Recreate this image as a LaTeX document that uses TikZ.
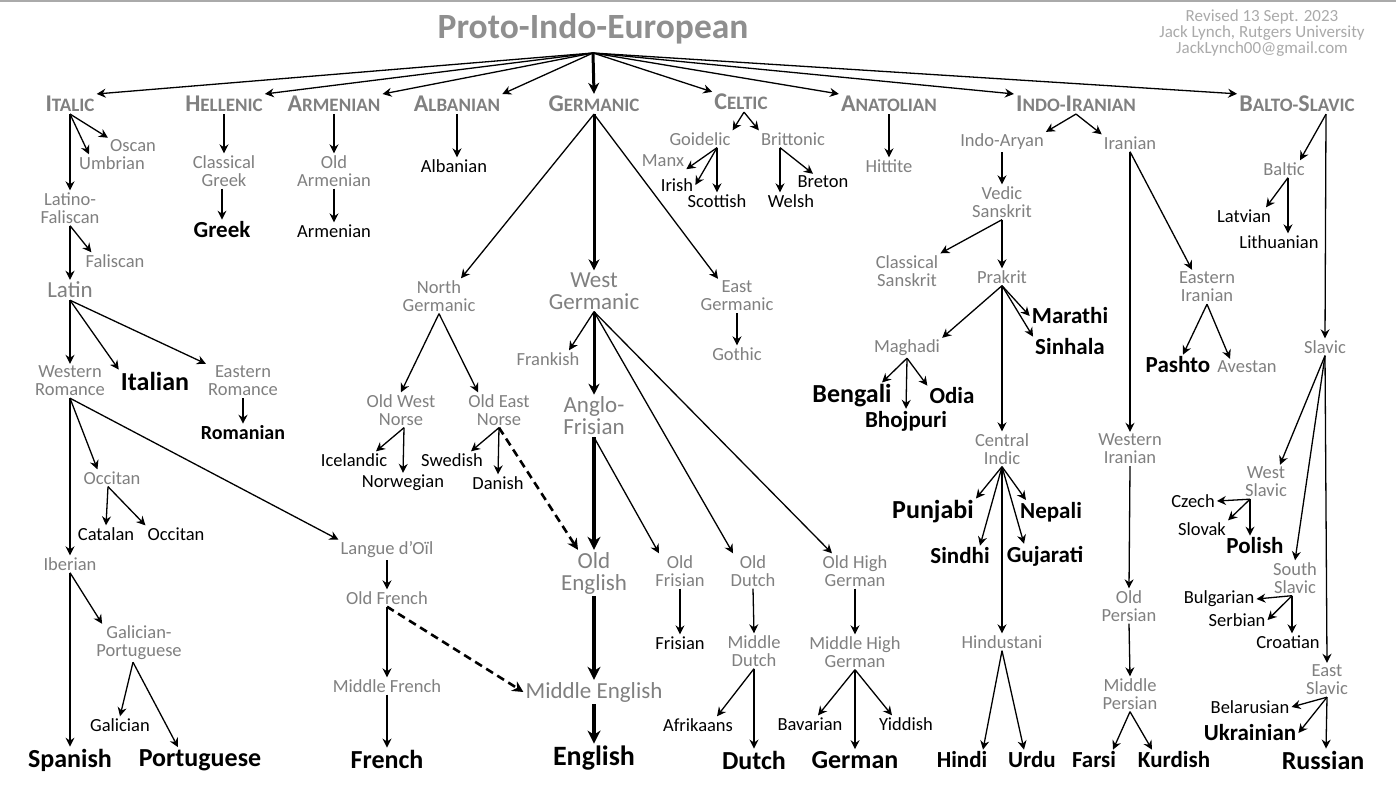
\documentclass[tikz,border=0pt]{standalone}
\usepackage{fontspec}
\setmainfont{Carlito}
\usetikzlibrary{arrows.meta}

\definecolor{txtgrey}{RGB}{128,128,128}
\definecolor{ttlgrey}{RGB}{143,143,143}
\definecolor{credgrey}{RGB}{170,170,170}

% branch names in large and small capitals
\newcommand\bigC[1]{{\fontsize{24}{24}\selectfont #1}}
\newcommand\smC[1]{{\fontsize{19}{19}\selectfont #1}}

\tikzset{
  lbl/.style={inner sep=2pt, align=center, text=txtgrey, font=\fontsize{18.5}{18}\selectfont},
  blk/.style={lbl, text=black},
  big/.style={lbl, font=\fontsize{23}{22}\selectfont},
  maj/.style={blk, font=\bfseries\fontsize{26}{26}\selectfont},
  mid/.style={blk, font=\bfseries\fontsize{23}{23}\selectfont},
  sml/.style={blk, font=\bfseries\fontsize{20}{20}\selectfont},
  fam/.style={lbl, font=\bfseries},
  arr/.style={-{Stealth[length=9pt,width=9pt,inset=3pt]}, line width=1.3pt},
  heavy/.style={-{Stealth[length=13pt,width=13pt,inset=4pt]}, line width=4.5pt},
  semiheavy/.style={-{Stealth[length=11pt,width=11pt,inset=3.5pt]}, line width=3pt},
  dsh/.style={-{Stealth[length=11pt,width=11pt,inset=3.5pt]}, line width=2.6pt, dash pattern=on 8pt off 5pt},
}

\begin{document}
\begin{tikzpicture}[x=1pt, y=-1pt]
    \useasboundingbox (0,0) rectangle (1396,786);
    \fill[white] (0,0) rectangle (1396,786);
    \draw[credgrey, line width=1.5pt] (0,1) -- (1396,1);

    % Title and credits
    \node[inner sep=2pt, text=ttlgrey, font=\bfseries\fontsize{35.5}{35}\selectfont] (pie) at (593,29) {Proto-Indo-European};
    \coordinate (apex) at (593,53);
    \node[align=center, text=credgrey, font=\fontsize{17}{16}\selectfont] (cred) at (1262,33) {Revised 13 Sept. 2023\\Jack Lynch, Rutgers University\\JackLynch00@gmail.com};

    % Branches
    \node[fam] (italic) at (70,104) {\bigC{I}\smC{TALIC}};
    \node[fam] (hellenic) at (224,104) {\bigC{H}\smC{ELLENIC}};
    \node[fam] (armenian) at (334,104) {\bigC{A}\smC{RMENIAN}};
    \node[fam] (albanian) at (457,104) {\bigC{A}\smC{LBANIAN}};
    \node[fam] (germanic) at (594,104) {\bigC{G}\smC{ERMANIC}};
    \node[fam] (celtic) at (741,102) {\bigC{C}\smC{ELTIC}};
    \node[fam] (anatolian) at (889,104) {\bigC{A}\smC{NATOLIAN}};
    \node[fam] (indoiran) at (1076,104) {\bigC{I}\smC{NDO-}\bigC{I}\smC{RANIAN}};
    \node[fam] (baltoslav) at (1297,104) {\bigC{B}\smC{ALTO-}\bigC{S}\smC{LAVIC}};

    \draw[arr] (apex) -- (italic.north east);
    \draw[arr] (apex) -- (hellenic.north east);
    \draw[arr] (apex) -- (armenian.north east);
    \draw[arr] (apex) -- (albanian.north east);
    \draw[semiheavy] (apex) -- (germanic.north);
    \draw[arr] (apex) -- (celtic.north west);
    \draw[arr] (apex) -- (anatolian.north west);
    \draw[arr] (apex) -- (indoiran.north west);
    \draw[arr] (apex) -- (baltoslav.north west);

    % Italic
    \node[lbl] (oscan) at (133,146) {Oscan};
    \node[lbl] (umbrian) at (112,163) {Umbrian};
    \node[lbl] (latfal) at (70,208) {Latino-\\Faliscan};
    \node[lbl] (faliscan) at (115,261) {Faliscan};
    \node[big] (latin) at (70,290) {Latin};
    \node[lbl] (wrom) at (70,381) {Western\\Romance};
    \node[maj] (italian) at (155,381) {Italian};
    \node[lbl] (erom) at (243,381) {Eastern\\Romance};
    \node[sml] (romanian) at (243,433) {Romanian};
    \node[lbl] (occg) at (112,478) {Occitan};
    \node[blk] (catalan) at (106,534) {Catalan};
    \node[blk] (occitan) at (176,534) {Occitan};
    \node[lbl] (iberian) at (70,564) {Iberian};
    \node[lbl] (galport) at (139,643) {Galician-\\Portuguese};
    \node[blk] (galician) at (120,725) {Galician};
    \node[maj] (spanish) at (70,760) {Spanish};
    \node[maj] (portuguese) at (200,760) {Portuguese};
    \node[lbl] (langue) at (387,550) {Langue d’Oïl};

    \draw[arr] (italic.south) -- (oscan.north west);
    \draw[arr] (italic.south) -- ([xshift=12pt]umbrian.north west);
    \draw[arr] (italic.south) -- (latfal.north);
    \draw[arr] (latfal.south) -- ([xshift=8pt]faliscan.north west);
    \draw[arr] (latfal.south) -- (latin.north);
    \draw[arr] (latin.south) -- (wrom.north);
    \draw[arr] (latin.south) -- (italian.north west);
    \draw[arr] (latin.south) -- (erom.north west);
    \draw[arr] (erom.south) -- (romanian.north);
    \draw[arr] (wrom.south) -- ([xshift=16pt]occg.north west);
    \draw[arr] (wrom.south) -- (iberian.north);
    \draw[arr] (wrom.south) -- (langue.north west);
    \draw[arr] ([xshift=-4pt]occg.south) -- (catalan.north);
    \draw[arr] ([xshift=-4pt]occg.south) -- (occitan.north west);
    \draw[arr] (iberian.south) -- ([xshift=8pt]galport.north west);
    \draw[arr] (iberian.south) -- (spanish.north);
    \draw[arr] ([xshift=-6pt]galport.south) -- (galician.north);
    \draw[arr] ([xshift=-6pt]galport.south) -- ([xshift=-22pt]portuguese.north);

    % Hellenic, Armenian, Albanian
    \node[lbl] (clgreek) at (224,171) {Classical\\Greek};
    \node[mid] (greek) at (222,230) {Greek};
    \node[lbl] (oldarm) at (334,171) {Old\\Armenian};
    \node[blk] (armenianl) at (334,231) {Armenian};
    \node[blk] (albanianl) at (454,166) {Albanian};

    \draw[arr] (hellenic.south) -- (clgreek.north);
    \draw[arr] ([xshift=-2pt]clgreek.south) -- (greek.north);
    \draw[arr] (armenian.south) -- (oldarm.north);
    \draw[arr] (oldarm.south) -- (armenianl.north);
    \draw[arr] (albanian.south) -- ([xshift=3pt]albanianl.north);

    % Germanic
    \node[lbl] (ngerm) at (439,296) {North\\Germanic};
    \node[big] (wgerm) at (594,291) {West\\Germanic};
    \node[lbl] (egerm) at (737,296) {East\\Germanic};
    \node[lbl] (gothic) at (737,354) {Gothic};
    \node[lbl] (owns) at (401,410) {Old West\\Norse};
    \node[lbl] (oens) at (499,410) {Old East\\Norse};
    \node[blk] (icelandic) at (354,460) {Icelandic};
    \node[blk] (norwegian) at (403,483) {Norwegian};
    \node[blk] (swedish) at (452,460) {Swedish};
    \node[blk] (danish) at (498,483) {Danish};
    \node[lbl] (frankish) at (548,359) {Frankish};
    \node[big] (anglofris) at (594,416) {Anglo-\\Frisian};
    \node[big] (oldeng) at (594,573) {Old\\English};
    \node[lbl] (ofris) at (680,571) {Old\\Frisian};
    \node[lbl] (odutch) at (753,571) {Old\\Dutch};
    \node[lbl] (ohg) at (855,571) {Old High\\German};
    \node[big] (mideng) at (594,692) {Middle English};
    \node[blk, font=\bfseries\fontsize{28}{28}\selectfont] (english) at (594,758) {English};
    \node[lbl] (ofrench) at (387,598) {Old French};
    \node[lbl] (mfrench) at (387,686) {Middle French};
    \node[maj] (french) at (387,759) {French};
    \node[blk] (frisian) at (680,643) {Frisian};
    \node[lbl] (mdutch) at (754,651) {Middle\\Dutch};
    \node[blk] (afrikaans) at (698,725) {Afrikaans};
    \node[maj] (dutch) at (754,760) {Dutch};
    \node[lbl] (mhg) at (855,652) {Middle High\\German};
    \node[blk] (bavarian) at (810,724) {Bavarian};
    \node[maj] (german) at (855,760) {German};
    \node[blk] (yiddish) at (906,724) {Yiddish};

    \draw[arr] (germanic.south) -- ([xshift=22pt]ngerm.north);
    \draw[semiheavy] (germanic.south) -- (wgerm.north);
    \draw[arr] (germanic.south) -- ([xshift=-19pt]egerm.north);
    \draw[arr] (egerm.south) -- (gothic.north);
    \draw[arr] (ngerm.south) -- (owns.north);
    \draw[arr] (ngerm.south) -- ([xshift=-21pt]oens.north);
    \draw[arr] ([xshift=3pt]owns.south) -- ([xshift=22pt]icelandic.north);
    \draw[arr] ([xshift=3pt]owns.south) -- (norwegian.north);
    \draw[arr] (oens.south) -- ([xshift=19pt]swedish.north);
    \draw[arr] (oens.south) -- (danish.north);
    \draw[dsh] (oens.south) -- ([xshift=-16pt]oldeng.north);
    \draw[arr] (wgerm.south) -- ([xshift=21pt]frankish.north);
    \draw[semiheavy] (wgerm.south) -- (anglofris.north);
    \draw[arr] (wgerm.south) -- ([xshift=-20pt]odutch.north);
    \draw[arr] (wgerm.south) -- ([xshift=-23pt]ohg.north);
    \draw[heavy] (anglofris.south) -- (oldeng.north);
    \draw[arr] (anglofris.south) -- ([xshift=-21pt]ofris.north);
    \draw[heavy] (oldeng.south) -- (mideng.north);
    \draw[heavy] (mideng.south) -- (english.north);
    \draw[arr] (langue.south) -- (ofrench.north);
    \draw[arr] (ofrench.south) -- (mfrench.north);
    \draw[dsh] (ofrench.south) -- (mideng.west);
    \draw[arr] (mfrench.south) -- (french.north);
    \draw[arr] (ofris.south) -- (frisian.north);
    \draw[arr] (odutch.south) -- (mdutch.north);
    \draw[arr] (mdutch.south) -- ([xshift=19pt]afrikaans.north);
    \draw[arr] (mdutch.south) -- (dutch.north);
    \draw[arr] (ohg.south) -- (mhg.north);
    \draw[arr] (mhg.south) -- ([xshift=8pt]bavarian.north);
    \draw[arr] (mhg.south) -- (german.north);
    \draw[arr] (mhg.south) -- ([xshift=-14pt]yiddish.north);

    % Celtic and Anatolian
    \node[lbl] (goidelic) at (700,139) {Goidelic};
    \node[lbl] (britt) at (793,139) {Brittonic};
    \node[lbl] (manx) at (663,161) {Manx};
    \node[blk] (irish) at (677,185) {Irish};
    \node[blk] (scottish) at (717,201) {Scottish};
    \node[blk] (welsh) at (791,201) {Welsh};
    \node[blk] (breton) at (823,182) {Breton};
    \node[lbl] (hittite) at (889,166) {Hittite};

    \draw[arr] ([xshift=3pt]celtic.south) -- (goidelic.north east);
    \draw[arr] ([xshift=3pt]celtic.south) -- (britt.north west);
    \draw[arr] ([xshift=17pt]goidelic.south) -- (manx.south east);
    \draw[arr] ([xshift=17pt]goidelic.south) -- (irish.east);
    \draw[arr] ([xshift=17pt]goidelic.south) -- (scottish.north);
    \draw[arr] ([xshift=-13pt]britt.south) -- ([xshift=-11pt]welsh.north);
    \draw[arr] ([xshift=-13pt]britt.south) -- ([xshift=-10pt]breton.north);
    \draw[arr] (anatolian.south) -- (hittite.north);

    % Indo-Iranian
    \node[lbl] (indoaryan) at (1002,142) {Indo-Aryan};
    \node[lbl] (iranian) at (1130,143) {Iranian};
    \node[lbl] (vedic) at (1002,202) {Vedic\\Sanskrit};
    \node[lbl] (clsk) at (907,271) {Classical\\Sanskrit};
    \node[lbl] (prakrit) at (1002,277) {Prakrit};
    \node[mid] (marathi) at (1070,316) {Marathi};
    \node[mid] (sinhala) at (1070,347) {Sinhala};
    \node[lbl] (maghadi) at (907,348) {Maghadi};
    \node[maj] (bengali) at (852,396) {Bengali};
    \node[mid] (bhojpuri) at (906,421) {Bhojpuri};
    \node[mid] (odia) at (952,396) {Odia};
    \node[lbl] (cindic) at (1002,449) {Central\\Indic};
    \node[maj] (punjabi) at (933,512) {Punjabi};
    \node[mid] (nepali) at (1051,512) {Nepali};
    \node[mid] (sindhi) at (960,556) {Sindhi};
    \node[mid] (gujarati) at (1045,556) {Gujarati};
    \node[lbl] (hindustani) at (1002,642) {Hindustani};
    \node[mid] (hindi) at (962,760) {Hindi};
    \node[mid] (urdu) at (1032,760) {Urdu};
    \node[lbl] (eiran) at (1207,287) {Eastern\\Iranian};
    \node[mid] (pashto) at (1178,365) {Pashto};
    \node[lbl] (avestan) at (1247,367) {Avestan};
    \node[lbl] (wiran) at (1130,449) {Western\\Iranian};
    \node[lbl] (opers) at (1129,606) {Old\\Persian};
    \node[lbl] (mpers) at (1130,694) {Middle\\Persian};
    \node[mid] (farsi) at (1094,760) {Farsi};
    \node[mid] (kurdish) at (1174,760) {Kurdish};

    \draw[arr] (indoiran.south) -- (indoaryan.north east);
    \draw[arr] (indoiran.south) -- (iranian.north west);
    \draw[arr] (indoaryan.south) -- (vedic.north);
    \draw[arr] (vedic.south) -- (clsk.north east);
    \draw[arr] (vedic.south) -- (prakrit.north);
    \draw[arr] (prakrit.south) -- (marathi.west);
    \draw[arr] (prakrit.south) -- (sinhala.north west);
    \draw[arr] (prakrit.south) -- (maghadi.north east);
    \draw[arr] (prakrit.south) -- (cindic.north);
    \draw[arr] (maghadi.south) -- ([xshift=30pt]bengali.north);
    \draw[arr] (maghadi.south) -- (bhojpuri.north);
    \draw[arr] (maghadi.south) -- (odia.north west);
    \draw[arr] (cindic.south) -- (punjabi.north east);
    \draw[arr] (cindic.south) -- ([xshift=20pt]sindhi.north);
    \draw[arr] (cindic.south) -- ([xshift=8pt]nepali.north west);
    \draw[arr] (cindic.south) -- ([xshift=-21pt]gujarati.north);
    \draw[arr] (cindic.south) -- (hindustani.north);
    \draw[arr] (hindustani.south) -- ([xshift=21pt]hindi.north);
    \draw[arr] (hindustani.south) -- ([xshift=-8pt]urdu.north);
    \draw[arr] (iranian.south) -- ([xshift=-15pt]eiran.north);
    \draw[arr] (iranian.south) -- (wiran.north);
    \draw[arr] (eiran.south) -- ([xshift=5pt]pashto.north);
    \draw[arr] (eiran.south) -- ([xshift=-17pt]avestan.north);
    \draw[arr] (wiran.south) -- (opers.north);
    \draw[arr] (opers.south) -- (mpers.north);
    \draw[arr] (mpers.south) -- ([xshift=19pt]farsi.north);
    \draw[arr] (mpers.south) -- ([xshift=-22pt]kurdish.north);

    % Balto-Slavic
    \node[lbl] (baltic) at (1284,169) {Baltic};
    \node[blk] (latvian) at (1244,216) {Latvian};
    \node[blk] (lithuanian) at (1279,242) {Lithuanian};
    \node[lbl] (slavic) at (1325,347) {Slavic};
    \node[lbl] (wslav) at (1266,482) {West\\Slavic};
    \node[blk] (czech) at (1193,501) {Czech};
    \node[blk] (slovak) at (1202,529) {Slovak};
    \node[mid] (polish) at (1255,546) {Polish};
    \node[lbl] (sslav) at (1295,578) {South\\Slavic};
    \node[blk] (bulgarian) at (1219,599) {Bulgarian};
    \node[blk] (serbian) at (1237,620) {Serbian};
    \node[blk] (croatian) at (1288,642) {Croatian};
    \node[lbl] (eslav) at (1327,680) {East\\Slavic};
    \node[blk] (belarusian) at (1250,707) {Belarusian};
    \node[mid] (ukrainian) at (1250,733) {Ukrainian};
    \node[maj] (russian) at (1323,760) {Russian};

    \draw[arr] ([xshift=29pt]baltoslav.south) -- ([xshift=16pt]baltic.north);
    \draw[arr] ([xshift=29pt]baltoslav.south) -- (slavic.north);
    \draw[arr] ([xshift=4pt]baltic.south) -- ([xshift=22pt]latvian.north);
    \draw[arr] ([xshift=4pt]baltic.south) -- ([xshift=9pt]lithuanian.north);
    \draw[arr] (slavic.south) -- ([xshift=14pt]wslav.north);
    \draw[arr] (slavic.south) -- (sslav.north);
    \draw[arr] (slavic.south) -- (eslav.north);
    \draw[arr] ([xshift=-16pt]wslav.south) -- (czech.east);
    \draw[arr] ([xshift=-16pt]wslav.south) -- (slovak.north east);
    \draw[arr] ([xshift=-16pt]wslav.south) -- ([xshift=-5pt]polish.north);
    \draw[arr] ([xshift=-3pt]sslav.south) -- (bulgarian.east);
    \draw[arr] ([xshift=-3pt]sslav.south) -- (serbian.east);
    \draw[arr] ([xshift=-3pt]sslav.south) -- ([xshift=4pt]croatian.north);
    \draw[arr] (eslav.south) -- (belarusian.east);
    \draw[arr] (eslav.south) -- (ukrainian.east);
    \draw[arr] (eslav.south) -- ([xshift=3pt]russian.north);
\end{tikzpicture}
\end{document}
